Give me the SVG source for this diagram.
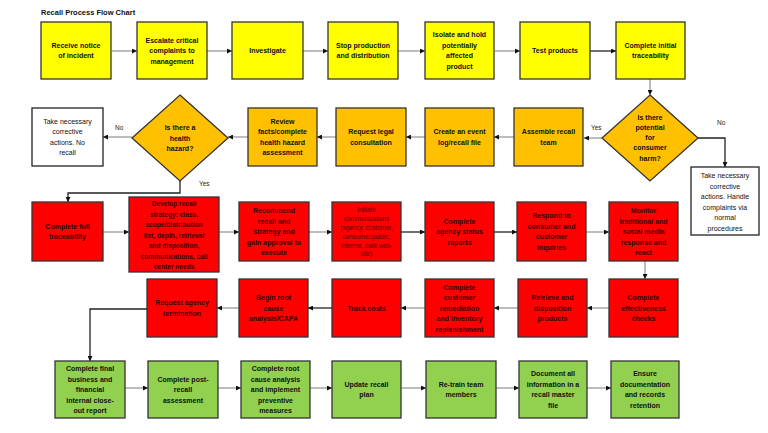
<svg xmlns="http://www.w3.org/2000/svg" width="768" height="433" viewBox="0 0 768 433">
<defs>
<marker id="ah" markerWidth="5" markerHeight="5" refX="5" refY="2.5" orient="auto" markerUnits="userSpaceOnUse"><path d="M0,0 L5,2.5 L0,5 z" fill="#111"/></marker>
<style>
.y{fill:#FFFF00;stroke:#333;stroke-width:1.3}
.o{fill:#FFC000;stroke:#333;stroke-width:1.3}
.r{fill:#FF0000;stroke:#333;stroke-width:1.3}
.g{fill:#92D050;stroke:#333;stroke-width:1.3}
.w{fill:#FFFFFF;stroke:#222;stroke-width:1.3}
.t{font-family:"Liberation Sans",Arial,sans-serif;font-size:7px;font-weight:bold;text-anchor:middle;fill:#111}
.tr{font-family:"Liberation Sans",Arial,sans-serif;font-size:7px;font-weight:bold;text-anchor:middle;fill:#3a0000}
.trs{font-family:"Liberation Sans",Arial,sans-serif;font-size:6.6px;font-weight:bold;text-anchor:middle;fill:#3a0000}
.tw{font-family:"Liberation Sans",Arial,sans-serif;font-size:7px;text-anchor:middle;fill:#111}
.ti{font-family:"Liberation Sans",Arial,sans-serif;font-size:6.3px;text-anchor:middle;fill:#5a0000}
.lb{font-family:"Liberation Sans",Arial,sans-serif;font-size:6.5px;fill:#222}
.c{fill:none;stroke:#999;stroke-width:1.3;marker-end:url(#ah)}
.d{fill:none;stroke:#222;stroke-width:1.3;marker-end:url(#ah)}
</style>
</defs>
<rect width="768" height="433" fill="#fff"/>
<text x="41" y="15" font-family="'Liberation Sans',Arial,sans-serif" font-size="7.5" font-weight="bold" fill="#111">Recall Process Flow Chart</text>

<g id="connectors">
<path class="c" d="M112,51 H137"/>
<path class="c" d="M207,51 H232"/>
<path class="c" d="M303,51 H328"/>
<path class="c" d="M398,51 H425"/>
<path class="c" d="M495,51 H520"/>
<path class="d" d="M590,51 H616"/>
<path class="c" d="M650,79 V95"/>
<path class="c" d="M602,138 H584"/>
<path class="d" d="M698,138 H725 V167"/>
<path class="c" d="M514,137 H494"/>
<path class="c" d="M425,137 H406"/>
<path class="c" d="M336,137 H317"/>
<path class="c" d="M248,137 H228"/>
<path class="c" d="M132,137 H103"/>
<path class="d" d="M180,181 V193 H68 V202"/>
<path class="c" d="M103,232 H129"/>
<path class="c" d="M219,232 H239"/>
<path class="c" d="M309,232 H332"/>
<path class="d" d="M401,232 H425"/>
<path class="d" d="M494,232 H517"/>
<path class="c" d="M586,232 H609"/>
<path class="c" d="M645,261 V279"/>
<path class="c" d="M609,308 H587"/>
<path class="c" d="M518,308 H494"/>
<path class="c" d="M425,308 H401"/>
<path class="d" d="M332,308 H308"/>
<path class="c" d="M239,308 H217"/>
<path class="d" d="M147,309 H90 V361"/>
<path class="c" d="M125,388 H148"/>
<path class="c" d="M218,388 H241"/>
<path class="c" d="M310,388 H332"/>
<path class="c" d="M401,388 H426"/>
<path class="c" d="M496,388 H519"/>
<path class="c" d="M587,388 H611"/>
<text class="lb" x="591" y="130">Yes</text>
<text class="lb" x="717" y="125">No</text>
<text class="lb" x="115" y="130">No</text>
<text class="lb" x="199" y="186">Yes</text>
</g>

<!-- Row 1 -->
<g id="n1"><rect class="y" x="41" y="22" width="70" height="57"/><text class="t" x="76" y="47.8">Receive notice<tspan x="76" dy="10.5">of incident</tspan></text></g>
<g id="n2"><rect class="y" x="137" y="22" width="70" height="57"/><text class="t" x="172" y="42.5">Escalate critical<tspan x="172" dy="10.5">complaints to</tspan><tspan x="172" dy="10.5">management</tspan></text></g>
<g id="n3"><rect class="y" x="232" y="22" width="71" height="57"/><text class="t" x="267.5" y="53">Investigate</text></g>
<g id="n4"><rect class="y" x="328" y="22" width="70" height="57"/><text class="t" x="363" y="47.8">Stop production<tspan x="363" dy="10.5">and distribution</tspan></text></g>
<g id="n5"><rect class="y" x="425" y="22" width="69" height="57"/><text class="t" x="459.5" y="37.3">Isolate and hold<tspan x="459.5" dy="10.5">potentially</tspan><tspan x="459.5" dy="10.5">affected</tspan><tspan x="459.5" dy="10.5">product</tspan></text></g>
<g id="n6"><rect class="y" x="520" y="22" width="70" height="57"/><text class="t" x="555" y="53">Test products</text></g>
<g id="n7"><rect class="y" x="616" y="22" width="69" height="57"/><text class="t" x="650.5" y="47.8">Complete initial<tspan x="650.5" dy="10.5">traceability</tspan></text></g>

<!-- Row 2 -->
<g id="d2"><polygon class="o" points="650,95 698,138 650,181 602,138"/><text class="t" x="650" y="119.5">Is there<tspan x="650" dy="10.3">potential</tspan><tspan x="650" dy="10.3">for</tspan><tspan x="650" dy="10.3">consumer</tspan><tspan x="650" dy="10.3">harm?</tspan></text></g>
<g id="w2"><rect class="w" x="691" y="167" width="68" height="68"/><text class="tw" x="725" y="178.3">Take necessary<tspan x="725" dy="10.5">corrective</tspan><tspan x="725" dy="10.5">actions.  Handle</tspan><tspan x="725" dy="10.5">complaints via</tspan><tspan x="725" dy="10.5">normal</tspan><tspan x="725" dy="10.5">procedures</tspan></text></g>
<g id="n8"><rect class="o" x="514" y="108" width="69" height="58"/><text class="t" x="548.5" y="134.3">Assemble recall<tspan x="548.5" dy="10.5">team</tspan></text></g>
<g id="n9"><rect class="o" x="425" y="108" width="69" height="58"/><text class="t" x="459.5" y="134.3">Create an event<tspan x="459.5" dy="10.5">log/recall file</tspan></text></g>
<g id="n10"><rect class="o" x="336" y="108" width="70" height="58"/><text class="t" x="371" y="134.3">Request legal<tspan x="371" dy="10.5">consultation</tspan></text></g>
<g id="n11"><rect class="o" x="248" y="108" width="69" height="58"/><text class="t" x="282.5" y="123.8">Review<tspan x="282.5" dy="10.5">facts/complete</tspan><tspan x="282.5" dy="10.5">health hazard</tspan><tspan x="282.5" dy="10.5">assessment</tspan></text></g>
<g id="d1"><polygon class="o" points="180,95 228,138 180,181 132,138"/><text class="t" x="180" y="130">Is there a<tspan x="180" dy="10.5">health</tspan><tspan x="180" dy="10.5">hazard?</tspan></text></g>
<g id="w1"><rect class="w" x="32" y="108" width="71" height="58"/><text class="tw" x="67.5" y="123.8">Take necessary<tspan x="67.5" dy="10.5">corrective</tspan><tspan x="67.5" dy="10.5">actions.  No</tspan><tspan x="67.5" dy="10.5">recall</tspan></text></g>

<!-- Row 3 -->
<g id="n12"><rect class="r" x="32" y="202" width="71" height="59"/><text class="tr" x="67.5" y="228.8">Complete full<tspan x="67.5" dy="10.5">traceability</tspan></text></g>
<g id="n13"><rect class="r" x="129" y="197" width="90" height="75"/><text class="trs" x="174" y="206">Develop recall<tspan x="174" dy="10.5">strategy: class,</tspan><tspan x="174" dy="10.5">scope/distribution</tspan><tspan x="174" dy="10.5">list, depth, retrieval</tspan><tspan x="174" dy="10.5">and disposition,</tspan><tspan x="174" dy="10.5">communications, call</tspan><tspan x="174" dy="10.5">center needs</tspan></text></g>
<g id="n14"><rect class="r" x="239" y="202" width="70" height="59"/><text class="tr" x="274" y="213">Recommend<tspan x="274" dy="10.5">recall and</tspan><tspan x="274" dy="10.5">strategy and</tspan><tspan x="274" dy="10.5">gain approval to</tspan><tspan x="274" dy="10.5">execute</tspan></text></g>
<g id="n15"><rect class="r" x="332" y="202" width="69" height="59"/><text class="ti" x="366.5" y="211.9">Initiate<tspan x="366.5" dy="8.9">communications</tspan><tspan x="366.5" dy="8.9">(agency, customer,</tspan><tspan x="366.5" dy="8.9">consumer/public,</tspan><tspan x="366.5" dy="8.9">internal, dark web-</tspan><tspan x="366.5" dy="8.9">site)</tspan></text></g>
<g id="n16"><rect class="r" x="425" y="202" width="69" height="59"/><text class="tr" x="459.5" y="223.5">Complete<tspan x="459.5" dy="10.5">agency status</tspan><tspan x="459.5" dy="10.5">reports</tspan></text></g>
<g id="n17"><rect class="r" x="517" y="202" width="69" height="59"/><text class="tr" x="551.5" y="218.3">Respond to<tspan x="551.5" dy="10.5">consumer and</tspan><tspan x="551.5" dy="10.5">customer</tspan><tspan x="551.5" dy="10.5">inquiries</tspan></text></g>
<g id="n18"><rect class="r" x="609" y="202" width="69" height="59"/><text class="tr" x="643.5" y="213">Monitor<tspan x="643.5" dy="10.5">traditional and</tspan><tspan x="643.5" dy="10.5">social media</tspan><tspan x="643.5" dy="10.5">response and</tspan><tspan x="643.5" dy="10.5">react</tspan></text></g>

<!-- Row 4 -->
<g id="n19"><rect class="r" x="609" y="279" width="69" height="58"/><text class="tr" x="643.5" y="300">Complete<tspan x="643.5" dy="10.5">effectiveness</tspan><tspan x="643.5" dy="10.5">checks</tspan></text></g>
<g id="n20"><rect class="r" x="518" y="279" width="69" height="58"/><text class="tr" x="552.5" y="300">Retrieve and<tspan x="552.5" dy="10.5">disposition</tspan><tspan x="552.5" dy="10.5">products</tspan></text></g>
<g id="n21"><rect class="r" x="425" y="279" width="69" height="58"/><text class="tr" x="459.5" y="289.5">Complete<tspan x="459.5" dy="10.5">customer</tspan><tspan x="459.5" dy="10.5">remediation</tspan><tspan x="459.5" dy="10.5">and inventory</tspan><tspan x="459.5" dy="10.5">replenishment</tspan></text></g>
<g id="n22"><rect class="r" x="332" y="279" width="69" height="58"/><text class="tr" x="366.5" y="310.5">Track costs</text></g>
<g id="n23"><rect class="r" x="239" y="279" width="69" height="58"/><text class="tr" x="273.5" y="300">Begin root<tspan x="273.5" dy="10.5">cause</tspan><tspan x="273.5" dy="10.5">analysis/CAPA</tspan></text></g>
<g id="n24"><rect class="r" x="147" y="279" width="70" height="58"/><text class="tr" x="182" y="305.3">Request agency<tspan x="182" dy="10.5">termination</tspan></text></g>

<!-- Row 5 -->
<g id="n25"><rect class="g" x="55" y="361" width="70" height="57"/><text class="t" x="90" y="371">Complete final<tspan x="90" dy="10.5">business and</tspan><tspan x="90" dy="10.5">financial</tspan><tspan x="90" dy="10.5">internal close-</tspan><tspan x="90" dy="10.5">out report</tspan></text></g>
<g id="n26"><rect class="g" x="148" y="361" width="70" height="57"/><text class="t" x="183" y="381.5">Complete post-<tspan x="183" dy="10.5">recall</tspan><tspan x="183" dy="10.5">assessment</tspan></text></g>
<g id="n27"><rect class="g" x="241" y="361" width="69" height="57"/><text class="t" x="275.5" y="371">Complete root<tspan x="275.5" dy="10.5">cause analysis</tspan><tspan x="275.5" dy="10.5">and implement</tspan><tspan x="275.5" dy="10.5">preventive</tspan><tspan x="275.5" dy="10.5">measures</tspan></text></g>
<g id="n28"><rect class="g" x="332" y="361" width="69" height="57"/><text class="t" x="366.5" y="386.8">Update recall<tspan x="366.5" dy="10.5">plan</tspan></text></g>
<g id="n29"><rect class="g" x="426" y="361" width="70" height="57"/><text class="t" x="461" y="386.8">Re-train team<tspan x="461" dy="10.5">members</tspan></text></g>
<g id="n30"><rect class="g" x="519" y="361" width="68" height="57"/><text class="t" x="553" y="376.3">Document all<tspan x="553" dy="10.5">information in a</tspan><tspan x="553" dy="10.5">recall master</tspan><tspan x="553" dy="10.5">file</tspan></text></g>
<g id="n31"><rect class="g" x="611" y="361" width="68" height="57"/><text class="t" x="645" y="376.3">Ensure<tspan x="645" dy="10.5">documentation</tspan><tspan x="645" dy="10.5">and records</tspan><tspan x="645" dy="10.5">retention</tspan></text></g>
</svg>
